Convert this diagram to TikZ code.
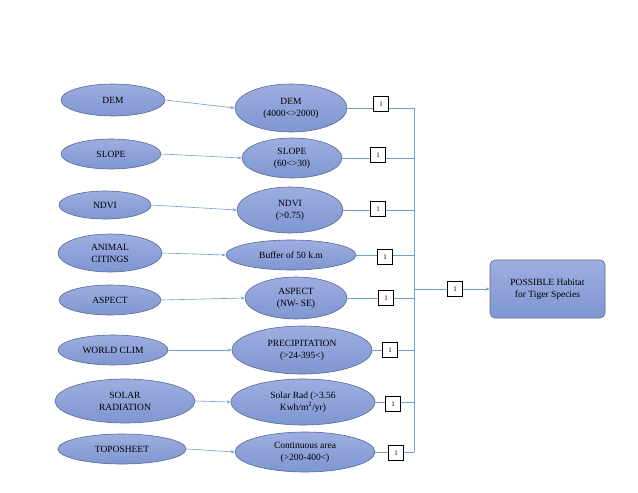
\documentclass[tikz,border=0pt]{standalone}
\usepackage{fontspec}
\setmainfont{Liberation Serif}
\usetikzlibrary{shapes.geometric,arrows.meta}
\begin{document}
\begin{tikzpicture}[x=1pt,y=-1pt,
  ell/.style={ellipse,draw=ell!70!black,line width=0.6pt,top color=ellA,bottom color=ellB,inner sep=0pt,align=center,font=\fontsize{9.5}{12}\selectfont},
  onebox/.style={draw=black,fill=white,minimum size=15pt,inner sep=0pt,font=\fontsize{7}{8}\selectfont},
  con/.style={draw=lineblue,line width=0.6pt},
  arr/.style={con,-{Stealth[length=4pt,width=3pt]}}]
\definecolor{ell}{HTML}{7F96D2}
\definecolor{ellA}{HTML}{9DAEE0}
\definecolor{ellB}{HTML}{7F96D2}
\definecolor{lineblue}{HTML}{6E9FD6}
\useasboundingbox (0,0) rectangle (638,493);
\fill[white] (0,0) rectangle (638,493);
% left
\node[ell,minimum width=104pt,minimum height=32pt] (l1) at (113,100) {DEM};
\node[ell,minimum width=100pt,minimum height=30pt] (l2) at (111,154) {SLOPE};
\node[ell,minimum width=92pt,minimum height=28pt] (l3) at (105,205) {NDVI};
\node[ell,minimum width=104pt,minimum height=38pt] (l4) at (110,253) {ANIMAL\\CITINGS};
\node[ell,minimum width=102pt,minimum height=30pt] (l5) at (110,300) {ASPECT};
\node[ell,minimum width=110pt,minimum height=30pt] (l6) at (113,350) {WORLD CLIM};
\node[ell,minimum width=140pt,minimum height=44pt] (l7) at (125,401) {SOLAR\\RADIATION};
\node[ell,minimum width=128pt,minimum height=30pt] (l8) at (122,449) {TOPOSHEET};
% middle
\node[ell,minimum width=112pt,minimum height=48pt] (m1) at (291,108) {DEM\\(4000<>2000)};
\node[ell,minimum width=100pt,minimum height=40pt] (m2) at (292,158) {SLOPE\\(60<>30)};
\node[ell,minimum width=106pt,minimum height=46pt] (m3) at (290,210) {NDVI\\(>0.75)};
\node[ell,minimum width=130pt,minimum height=30pt] (m4) at (291,255) {Buffer of 50 k.m};
\node[ell,minimum width=102pt,minimum height=42pt] (m5) at (296,298) {ASPECT\\(NW- SE)};
\node[ell,minimum width=140pt,minimum height=48pt] (m6) at (302,350) {PRECIPITATION\\(>24-395<)};
\node[ell,minimum width=144pt,minimum height=46pt] (m7) at (303,402) {Solar Rad (>3.56\\Kwh/m\textsuperscript{2}/yr)};
\node[ell,minimum width=140pt,minimum height=40pt] (m8) at (305,452) {Continuous area\\(>200-400<)};
% arrows
\draw[arr] (l1.east) -- (m1.west);
\draw[arr] (l2.east) -- (m2.west);
\draw[arr] (l3.east) -- (m3.west);
\draw[arr] (l4.east) -- (m4.west);
\draw[arr] (l5.east) -- (m5.west);
\draw[arr] (l6.east) -- (m6.west);
\draw[arr] (l7.east) -- (m7.west);
\draw[arr] (l8.east) -- (m8.west);
% bus
\coordinate (b1) at (414,108);
\coordinate (b8) at (414,452);
\coordinate (bm) at (414,289);
\foreach \i/\y in {1/108,2/158,3/210,4/255,5/298,6/350,7/402,8/452}{
  \draw[con] (m\i.east) -- (414,\y);
}
\draw[con] (b1) -- (b8);
\node[onebox] (k1) at (381,104) {1};
\node[onebox] (k2) at (378,155) {1};
\node[onebox] (k3) at (378,209) {1};
\node[onebox] (k4) at (385,257) {1};
\node[onebox] (k5) at (386,298) {1};
\node[onebox] (k6) at (390,350) {1};
\node[onebox] (k7) at (393,404) {1};
\node[onebox] (k8) at (396,453) {1};
\node[draw=ell!70!black,line width=0.6pt,top color=ellA,bottom color=ellB,rounded corners=5pt,minimum width=115pt,minimum height=58pt,align=center,font=\fontsize{9.5}{12}\selectfont] (res) at (547.5,289) {POSSIBLE Habitat\\for Tiger Species};
\draw[arr] (bm) -- (res.west);
\node[onebox] (k0) at (455,289) {1};
\end{tikzpicture}
\end{document}
